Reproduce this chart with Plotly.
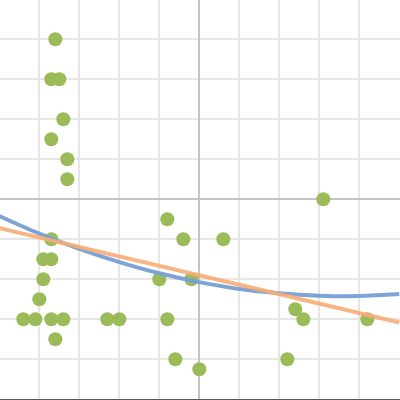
import plotly.graph_objects as go

# Scatter points
pt_x = [-3.6, -3.7, -3.5, -3.4, -3.7, -3.3, -3.3, 3.1, -0.8, -0.4, 0.6, -3.7,
        -3.9, -3.7, -3.9, -1.0, -0.2, -4.0, 2.4, 2.6, 4.2, -4.4, -4.1, -3.7,
        -3.4, -2.3, -2.0, -0.8, -3.6, -0.6, 2.2, 0.0]
pt_y = [4.0, 3.0, 3.0, 2.0, 1.5, 1.0, 0.5, 0.0, -0.5, -1.0, -1.0, -1.0,
        -1.5, -1.5, -2.0, -2.0, -2.0, -2.5, -2.75, -3.0, -3.0, -3.0, -3.0, -3.0,
        -3.0, -3.0, -3.0, -3.0, -3.5, -4.0, -4.0, -4.25]

# Linear trend line (endpoints)
lin_x = [-5.0, 5.0]
lin_y = [-0.72, -3.08]

# Quadratic trend line
quad_x = [-5, -4, -3, -2, -1, 0, 1, 2, 3, 4, 5]
quad_y = [-0.42, -0.86, -1.24, -1.57, -1.85, -2.07, -2.24, -2.35, -2.41, -2.42, -2.37]

fig = go.Figure()
fig.add_trace(go.Scatter(x=pt_x, y=pt_y, mode="markers",
                         marker=dict(size=14, color="#9BBB59"),
                         showlegend=False, hoverinfo="skip"))
fig.add_trace(go.Scatter(x=quad_x, y=quad_y, mode="lines",
                         line=dict(color="rgb(120,160,212)", width=4, shape="spline"),
                         opacity=0.95, showlegend=False, hoverinfo="skip"))
fig.add_trace(go.Scatter(x=lin_x, y=lin_y, mode="lines",
                         line=dict(color="rgb(248,172,118)", width=4),
                         opacity=0.9, showlegend=False, hoverinfo="skip"))

fig.update_layout(
    width=400, height=400,
    margin=dict(l=0, r=0, t=0, b=1),
    paper_bgcolor="white", plot_bgcolor="white",
    showlegend=False,
)
fig.update_xaxes(range=[-4.9825, 5.0175], dtick=1, tick0=0,
                 showgrid=True, gridcolor="#E6E6E6", gridwidth=1.5,
                 zeroline=True, zerolinecolor="#C4C4C4", zerolinewidth=1.5,
                 showticklabels=False, ticks="",
                 showline=True, linecolor="#595959", linewidth=2, mirror=False)
fig.update_yaxes(range=[-4.9925, 4.9825], dtick=1, tick0=0,
                 showgrid=True, gridcolor="#E6E6E6", gridwidth=1.5,
                 zeroline=True, zerolinecolor="#C4C4C4", zerolinewidth=1.5,
                 showticklabels=False, ticks="", showline=False)

fig.write_html("out.html", config={"displayModeBar": False},
               post_script="document.body.style.margin='0';document.body.style.overflow='hidden';")
